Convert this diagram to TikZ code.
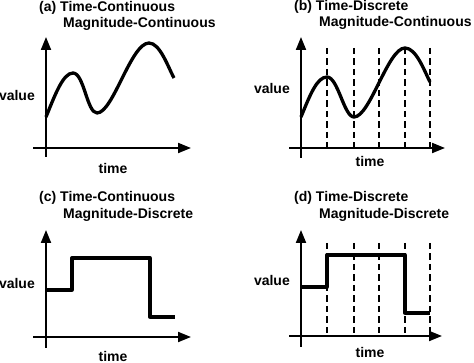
\documentclass[tikz,border=0pt]{standalone}
\usepackage{fontspec}
\setmainfont{Liberation Sans}
\usetikzlibrary{arrows.meta}
\begin{document}
\begin{tikzpicture}[x=1pt,y=-1pt,
  axis/.style={line width=2pt,-{Triangle[length=13pt,width=10pt]}},
  curve/.style={line width=3.3pt,line join=round},
  dashline/.style={line width=1.6pt,dash pattern=on 6.5pt off 4pt},
  lbl/.style={inner sep=0pt,font=\fontsize{14}{16}\selectfont\bfseries}]
\useasboundingbox (0,0) rectangle (474,363);
% ---------- (a)
\coordinate (ay0) at (46,157); \coordinate (ay1) at (46,37);
\coordinate (ax0) at (33,148); \coordinate (ax1) at (191,148);
\draw[axis] (ay0) -- (ay1);
\draw[axis] (ax0) -- (ax1);
\draw[curve] (46,117) .. controls (55,95) and (63,73) .. (73,73)
  .. controls (84,73) and (87,113) .. (97,113)
  .. controls (113,113) and (131,43) .. (149,43)
  .. controls (160,43) and (168,67) .. (174,78);
\node[lbl,anchor=base west] (ta1) at (39,12) {(a) Time-Continuous};
\node[lbl,anchor=base west] (ta2) at (63,28) {Magnitude-Continuous};
\node[lbl,anchor=base east] (va) at (35,101) {value};
\node[lbl,anchor=base] (tma) at (113,174) {time};
% ---------- (b)
\coordinate (by0) at (301,158); \coordinate (by1) at (301,37);
\coordinate (bx0) at (289,148); \coordinate (bx1) at (445,148);
\foreach \x in {327,354,379,405,430} \draw[dashline] (\x,48) -- (\x,148);
\draw[axis] (by0) -- (by1);
\draw[axis] (bx0) -- (bx1);
\draw[curve] (301,117) .. controls (310,95) and (317,77) .. (327,77)
  .. controls (338,77) and (344,117) .. (354,117)
  .. controls (370,117) and (388,48) .. (405,48)
  .. controls (416,48) and (424,70) .. (430,82);
\node[lbl,anchor=base west] (tb1) at (294,11) {(b) Time-Discrete};
\node[lbl,anchor=base west] (tb2) at (319,27) {Magnitude-Continuous};
\node[lbl,anchor=base east] (vb) at (290,94) {value};
\node[lbl,anchor=base] (tmb) at (370,167) {time};
% ---------- (c)
\coordinate (cy0) at (46,348); \coordinate (cy1) at (46,230);
\coordinate (cx0) at (33,337); \coordinate (cx1) at (191,337);
\draw[axis] (cy0) -- (cy1);
\draw[axis] (cx0) -- (cx1);
\draw[curve] (46,290) -- (72,290) -- (72,258) -- (150,258) -- (150,317) -- (175,317);
\node[lbl,anchor=base west] (tc1) at (39,202) {(c) Time-Continuous};
\node[lbl,anchor=base west] (tc2) at (63,219) {Magnitude-Discrete};
\node[lbl,anchor=base east] (vc) at (35,289) {value};
\node[lbl,anchor=base] (tmc) at (113,361) {time};
% ---------- (d)
\coordinate (dy0) at (301,347); \coordinate (dy1) at (301,230);
\coordinate (dx0) at (289,336); \coordinate (dx1) at (442,336);
\foreach \x in {327,354,379,405,430} \draw[dashline] (\x,243) -- (\x,336);
\draw[axis] (dy0) -- (dy1);
\draw[axis] (dx0) -- (dx1);
\draw[curve] (301,287) -- (327,287) -- (327,255) -- (405,255) -- (405,313) -- (430,313);
\node[lbl,anchor=base west] (td1) at (294,202) {(d) Time-Discrete};
\node[lbl,anchor=base west] (td2) at (319,219) {Magnitude-Discrete};
\node[lbl,anchor=base east] (vd) at (290,286) {value};
\node[lbl,anchor=base] (tmd) at (370,358) {time};
\end{tikzpicture}
\end{document}
